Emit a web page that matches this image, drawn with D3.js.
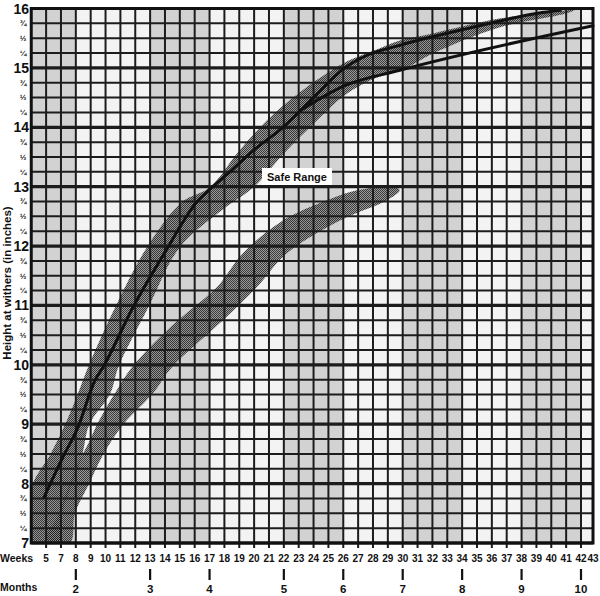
<!DOCTYPE html>
<html><head><meta charset="utf-8">
<script src="https://cdn.jsdelivr.net/npm/d3@7"></script>
<style>body{margin:0;background:#fff}svg{display:block}text{font-family:"Liberation Sans",Arial,sans-serif;font-weight:bold;fill:#111}</style>
</head><body><svg id="c" width="600" height="596"></svg>
<script>
// ---- data ----
const weekLabels = [5,7,8,9,10,11,12,13,14,15,16,17,18,19,20,21,22,23,24,25,26,27,28,29,30,31,32,33,34,35,36,37,38,39,40,41,42,43];
const monthLabels = [2,3,4,5,6,7,8,9,10];
const monthWeeks = [8,13,17,22,26,30,34,38,42];
const shadeStart = [4,13,22,30,38];
const shadeEnd   = [8,17,26,34,42];
const heightMin = 7, heightMax = 16;
const quarterSteps = 36;
const fracLabels = ["", "¼", "½", "¾"];
// solid growth line [week, inches]
const mainLine = [[4.86,7.77],[7.14,8.45],[8.15,8.95],[9.29,9.74],[9.83,9.96],[11.85,10.97],[14.2,11.98],[15.2,12.4],[16.0,12.7],[17.0,12.95],[18.5,13.28],[20.0,13.62],[21.94,14.0],[24.0,14.5],[26.1,15.0],[27.5,15.2],[29.8,15.38],[34.5,15.67],[39.1,15.92],[40.6,15.97]];
const lowerLine = [[23.1,14.28],[26.1,14.7],[29.8,14.96],[43,15.71]];
// band outlines (upper edge then lower edge back)
const band1 = [[4,7.0],[4.0,7.6],[4.12,8.0],[5.52,8.48],[7.27,8.99],[8.15,9.52],[8.82,9.96],[10.65,10.97],[12.79,11.98],[15.15,12.74],[17.03,12.99],[18.85,13.56],[20.87,14.12],[23.09,14.59],[26.1,15.09],[28.47,15.33],[29.8,15.46],[32.0,15.58],[36.5,15.83],[41.05,15.97],[41.6,15.98],
  [41.05,15.92],[36.5,15.68],[32.0,15.24],[30.15,14.99],[28.1,14.82],[26.1,14.54],[24.24,14.12],[22.0,13.56],[20.0,13.0],[17.8,12.6],[15.0,11.98],[12.88,10.97],[10.86,9.96],[10.32,9.52],[8.9,8.99],[8.43,8.48],[7.75,8.0],[7.07,7.5],[6.6,7.0]];
const band2 = [[4.93,7.0],[6.6,7.47],[7.94,8.23],[8.95,8.73],[9.42,8.99],[10.63,9.52],[11.78,9.96],[14.34,10.63],[17.5,11.31],[19.25,11.88],[21.94,12.43],[24.9,12.77],[26.92,12.94],[29.48,12.99],[29.8,12.94],
  [28.94,12.77],[25.78,12.43],[22.21,11.88],[20.19,11.31],[17.9,10.75],[14.47,9.96],[13.19,9.52],[11.17,8.99],[9.83,8.48],[8.82,7.96],[7.94,7.5],[7.61,7.0]];

// ---- scales ----
const gridWeeks = [4, ...weekLabels];
const step = (581 - 31.25) / 37;
const x = d3.scaleLinear().domain(gridWeeks)
  .range(gridWeeks.map((d,i) => i < gridWeeks.length - 1 ? 31.25 + i*step : 593));
const y = d3.scaleLinear().domain([heightMin, heightMax]).range([543, 8.5]);
const quarters = d3.range(quarterSteps + 1).map(i => heightMin + i * (heightMax - heightMin) / quarterSteps);

const svg = d3.select("#c");
const defs = svg.append("defs");
const pat = defs.append("pattern").attr("id","stip").attr("width",2).attr("height",2).attr("patternUnits","userSpaceOnUse");
pat.append("rect").attr("x",0).attr("y",0).attr("width",2).attr("height",2).attr("fill","#8c8c8c");
pat.append("rect").attr("x",0).attr("y",0).attr("width",1).attr("height",1).attr("fill","#1a1a1a");
pat.append("rect").attr("x",1).attr("y",1).attr("width",1).attr("height",1).attr("fill","#1a1a1a");
const clip = defs.append("clipPath").attr("id","plot");
clip.append("rect").attr("x",x(4)).attr("y",y(16)).attr("width",x(43)-x(4)).attr("height",y(7)-y(16));

// paper
svg.append("rect").attr("x",x(4)).attr("y",y(16)).attr("width",x(43)-x(4)).attr("height",y(7)-y(16)).attr("fill","#f3f3f3");
// month shading
svg.append("g").selectAll("rect").data(shadeStart).join("rect")
  .attr("x",(d)=>x(d)).attr("width",(d,i)=>x(shadeEnd[i])-x(d))
  .attr("y",y(16)).attr("height",y(7)-y(16)).attr("fill","#d2d2d2");

// stipple bands
const outline = d3.line().x(d=>x(d[0])).y(d=>y(d[1])).curve(d3.curveCatmullRomClosed.alpha(0.5));
const bg = svg.append("g").attr("clip-path","url(#plot)");
[band1, band2].forEach(b => bg.append("path").attr("d", outline(b)).attr("fill","url(#stip)").attr("opacity",0.85));

// grid
const grid = svg.append("g").attr("stroke","#1c1c1c");
grid.selectAll("line.v").data(weekLabels.slice(0,-1)).join("line")
  .attr("x1",d=>x(d)).attr("x2",d=>x(d)).attr("y1",y(16)).attr("y2",y(7)+5).attr("stroke-width",2);
grid.selectAll("line.h").data(quarters).join("line")
  .attr("x1",x(4)).attr("x2",x(43)).attr("y1",d=>y(d)).attr("y2",d=>y(d))
  .attr("stroke-width",(d,i)=>i%4===0?3.2:2);
svg.append("rect").attr("x",x(4)).attr("y",y(16)).attr("width",x(43)-x(4)).attr("height",y(7)-y(16))
  .attr("fill","none").attr("stroke","#111").attr("stroke-width",3);

// curves
const ln = d3.line().x(d=>x(d[0])).y(d=>y(d[1])).curve(d3.curveMonotoneX);
svg.append("path").attr("d",ln(mainLine)).attr("fill","none").attr("stroke","#111").attr("stroke-width",3).attr("stroke-linecap","round");
svg.append("path").attr("d",ln(lowerLine)).attr("fill","none").attr("stroke","#111").attr("stroke-width",3).attr("stroke-linecap","round");

// safe range label
svg.append("rect").attr("x",262).attr("y",168).attr("width",70).attr("height",17).attr("fill","#fff");
svg.append("text").attr("x",297).attr("y",181).attr("text-anchor","middle").attr("font-size",11).text("Safe Range");

// y labels
svg.append("g").selectAll("text").data(quarters).join("text")
  .attr("x",(d,i)=>i%4===0?29:23).attr("y",d=>y(d)).attr("dy","0.36em")
  .attr("text-anchor",(d,i)=>i%4===0?"end":"middle")
  .attr("font-size",(d,i)=>i%4===0?14:8)
  .text((d,i)=>i%4===0?d:fracLabels[i%4]);
svg.append("text").attr("transform","translate(11,283) rotate(-90)").attr("text-anchor","middle").attr("font-size",11.5).text("Height at withers (in inches)");

// x labels
svg.append("text").attr("x",0).attr("y",562).attr("font-size",10.5).text("Weeks");
svg.append("g").selectAll("text").data(weekLabels).join("text")
  .attr("x",d=>x(d)).attr("y",562).attr("text-anchor","middle").attr("font-size",10).text(d=>d);
svg.append("text").attr("x",0).attr("y",591).attr("font-size",10.5).text("Months");
svg.append("g").selectAll("line").data(monthWeeks).join("line")
  .attr("x1",d=>x(d)).attr("x2",d=>x(d)).attr("y1",569).attr("y2",580).attr("stroke","#111").attr("stroke-width",2.2);
svg.append("g").selectAll("text").data(monthLabels).join("text")
  .attr("x",(d,i)=>x(monthWeeks[i])).attr("y",593).attr("text-anchor","middle").attr("font-size",11.5).text(d=>d);
</script></body></html>
